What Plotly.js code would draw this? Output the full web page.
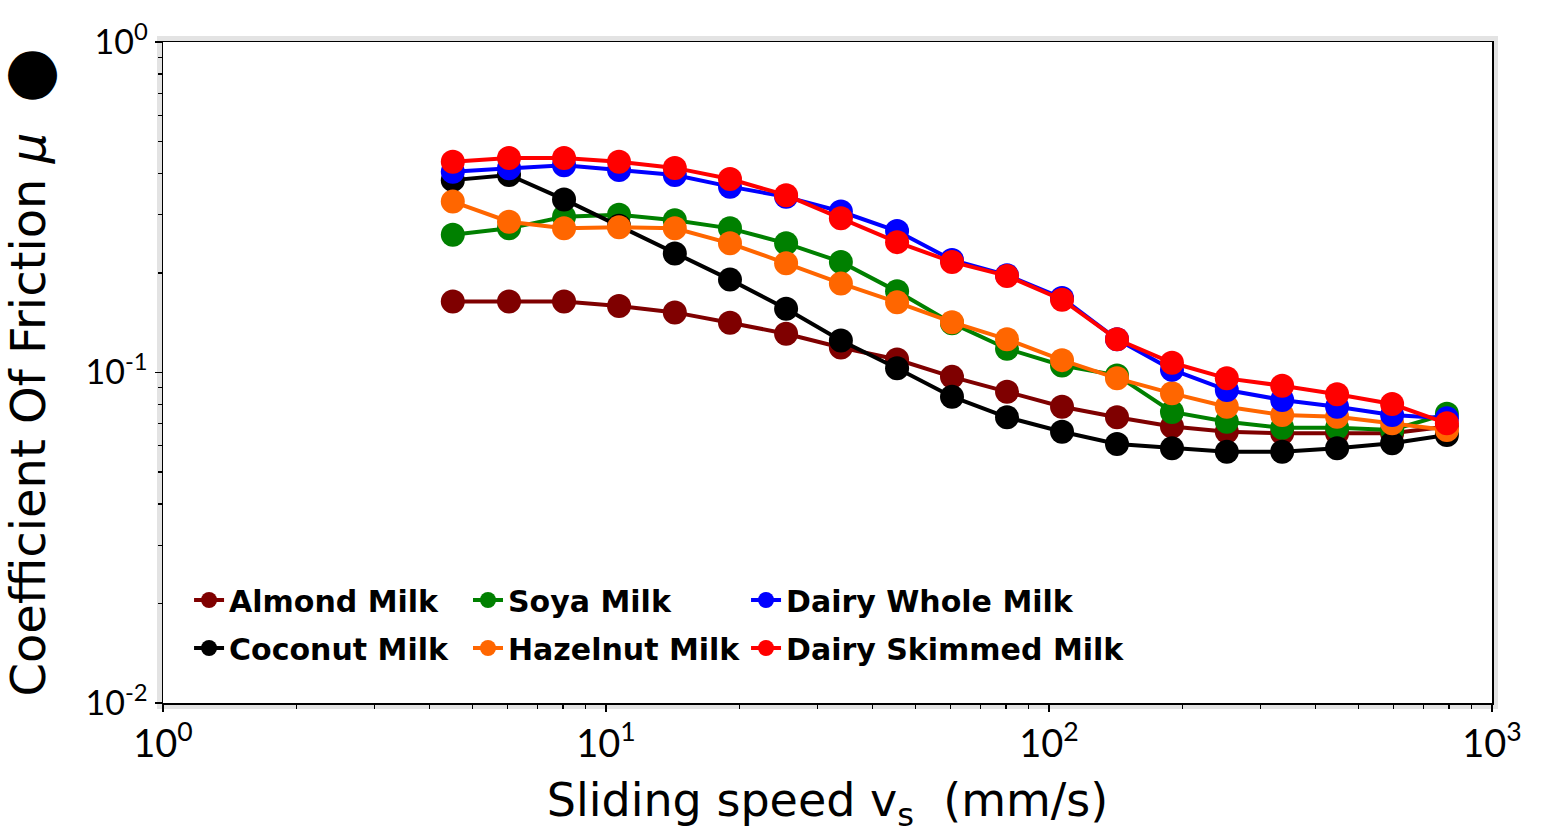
<!DOCTYPE html>
<html>
<head>
<meta charset="utf-8">
<script src="https://cdn.plot.ly/plotly-3.0.1.min.js"></script>
<style>html,body{margin:0;padding:0;background:#fff;}#chart{width:1546px;height:834px;}</style>
</head>
<body>
<div id="chart"></div>
<script>
// Sliding speed (mm/s)
const speed = [4.51, 6.04, 8.04, 10.7, 14.3, 19.05, 25.5, 33.9, 45.4, 60.4, 80.4, 107, 142.4, 189.5, 252, 336, 447, 595, 791];

const almondMilk   = [0.164, 0.164, 0.164, 0.159, 0.152, 0.1415, 0.131, 0.119, 0.1095, 0.097, 0.0875, 0.0788, 0.0732, 0.0686, 0.0662, 0.0655, 0.0655, 0.0655, 0.0686];
const soyaMilk     = [0.261, 0.273, 0.296, 0.300, 0.289, 0.273, 0.246, 0.216, 0.176, 0.141, 0.118, 0.105, 0.098, 0.076, 0.071, 0.068, 0.068, 0.067, 0.075];
const coconutMilk  = [0.382, 0.396, 0.334, 0.278, 0.229, 0.191, 0.156, 0.125, 0.103, 0.0845, 0.0732, 0.0662, 0.0608, 0.059, 0.0576, 0.0576, 0.059, 0.0611, 0.0647];
const hazelnutMilk = [0.329, 0.286, 0.273, 0.275, 0.273, 0.246, 0.214, 0.186, 0.163, 0.142, 0.126, 0.109, 0.096, 0.0865, 0.0788, 0.0744, 0.0735, 0.0702, 0.067];
const wholeMilk    = [0.405, 0.415, 0.424, 0.410, 0.396, 0.365, 0.340, 0.307, 0.268, 0.219, 0.197, 0.168, 0.126, 0.102, 0.0885, 0.0826, 0.0788, 0.0744, 0.0727];
const skimmedMilk  = [0.434, 0.446, 0.446, 0.434, 0.416, 0.385, 0.344, 0.293, 0.248, 0.216, 0.196, 0.166, 0.126, 0.107, 0.096, 0.0912, 0.0859, 0.0803, 0.0702];

const xTickVals = [1, 10, 100, 1000];
const xTickText = ['10<sup>0</sup>', '10<sup>1</sup>', '10<sup>2</sup>', '10<sup>3</sup>'];
const yTickVals = [0.01, 0.1, 1];
const yTickText = ['10<sup>-2</sup>', '10<sup>-1</sup>', '10<sup>0</sup>'];

function minorVals(lo, hi) {
  const out = [];
  for (let d = lo; d < hi; d++) {
    for (let k = 2; k <= 9; k++) out.push(k * Math.pow(10, d));
  }
  return out;
}

function series(name, y, color, legend) {
  return {
    x: speed, y: y, name: name, type: 'scatter', mode: 'lines+markers',
    legend: legend, legendgroup: name,
    line: {color: color, width: 4},
    marker: {color: color, size: 24, symbol: 'circle'}
  };
}

const data = [
  series('Almond Milk', almondMilk, '#7f0000', 'legend'),
  series('Soya Milk', soyaMilk, '#008000', 'legend2'),
  series('Coconut Milk', coconutMilk, '#000000', 'legend'),
  series('Hazelnut Milk', hazelnutMilk, '#ff6600', 'legend2'),
  series('Dairy Whole Milk', wholeMilk, '#0000ff', 'legend3'),
  series('Dairy Skimmed Milk', skimmedMilk, '#ff0000', 'legend3')
];

const TICKFONT = 'Lato, "Open Sans", sans-serif';
const TITLEFONT = '"DejaVu Sans", sans-serif';
const legendFont = {family: '"DejaVu Sans", sans-serif', size: 30, color: '#000', weight: 'bold'};

function legendAt(x) {
  return {
    orientation: 'v', x: x, xanchor: 'left', y: 0.1195, yanchor: 'middle',
    font: legendFont, bgcolor: 'rgba(0,0,0,0)', borderwidth: 0,
    traceorder: 'grouped', tracegroupgap: 6
  };
}

const layout = {
  width: 1546, height: 834,
  margin: {l: 163, r: 54, t: 42, b: 131},
  paper_bgcolor: '#fff', plot_bgcolor: '#fff',
  font: {family: TICKFONT, color: '#000'},
  showlegend: true,
  xaxis: {
    type: 'log', range: [0, 3],
    tickmode: 'array', tickvals: xTickVals, ticktext: xTickText,
    ticks: 'outside', ticklen: 7, tickwidth: 1.2, tickcolor: '#000',
    minor: {tickmode: 'array', tickvals: minorVals(0, 3), ticks: 'outside', ticklen: 4, tickwidth: 1.2, tickcolor: '#000'},
    showline: true, linecolor: '#000', linewidth: 1.5, mirror: true,
    showgrid: false, zeroline: false,
    tickfont: {family: TICKFONT, size: 38, color: '#000'},
    title: {text: 'Sliding speed v<sub>s</sub>  (mm/s)', font: {family: TITLEFONT, size: 46, color: '#000'}, standoff: 21},
    automargin: false
  },
  yaxis: {
    type: 'log', range: [-2, 0],
    tickmode: 'array', tickvals: yTickVals, ticktext: yTickText,
    ticks: 'outside', ticklen: 7, tickwidth: 1.2, tickcolor: '#000',
    minor: {tickmode: 'array', tickvals: minorVals(-2, 0), ticks: 'outside', ticklen: 4, tickwidth: 1.2, tickcolor: '#000'},
    showline: true, linecolor: '#000', linewidth: 1.5, mirror: true,
    showgrid: false, zeroline: false,
    tickfont: {family: TICKFONT, size: 34, color: '#000'},
    title: {text: 'Coefficient Of Friction <i>μ</i>  ⬤', font: {family: TITLEFONT, size: 48, color: '#000'}, standoff: 30},
    automargin: true
  },
  legend: legendAt(0.0196),
  legend2: legendAt(0.2295),
  legend3: legendAt(0.4387),
  shapes: [{
    type: 'rect', xref: 'paper', yref: 'paper', layer: 'below',
    x0: -3 / 1329, x1: 1 + 3 / 1329, y0: -3 / 661, y1: 1 + 3 / 661,
    line: {color: '#e3e3e3', width: 6}, fillcolor: 'rgba(0,0,0,0)'
  }]
};

Plotly.newPlot('chart', data, layout, {displayModeBar: false, staticPlot: true});
</script>
</body>
</html>
